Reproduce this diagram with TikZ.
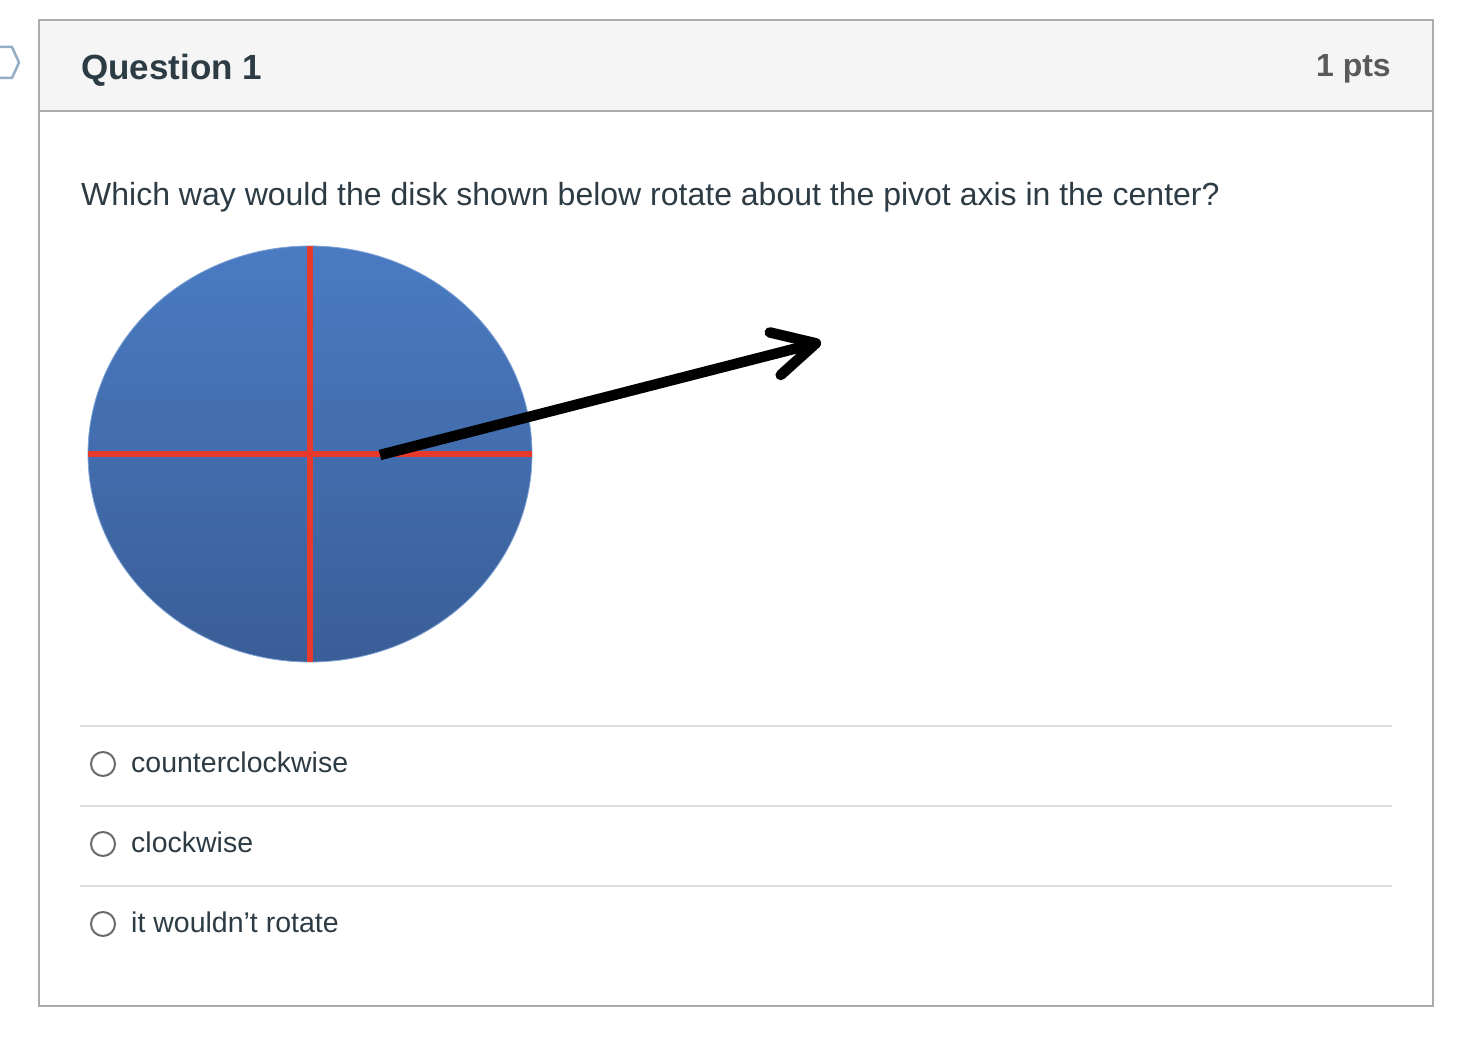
\documentclass[tikz,border=0pt]{standalone}
\usepackage{fontspec}
\setmainfont{Liberation Sans}
\usepackage{xcolor}
\usepackage{tikz}
\usetikzlibrary{shapes}
\usetikzlibrary{arrows.meta}
\usetikzlibrary{positioning}
\usetikzlibrary{calc}
\definecolor{frame}{HTML}{ABABAB}
\definecolor{headbg}{HTML}{F5F5F5}
\definecolor{ink}{HTML}{2D3B45}
\definecolor{ptsgray}{HTML}{5A5A5A}
\definecolor{rule}{HTML}{DEDEDE}
\definecolor{radio}{HTML}{6B6B6B}
\definecolor{disktop}{HTML}{4A7BC3}
\definecolor{diskbot}{HTML}{3A5E97}
\definecolor{axisred}{HTML}{E8392B}
\definecolor{navhex}{HTML}{94ADC6}

\begin{document}
\begin{tikzpicture}[x=1pt,y=-1pt,
  card/.style={
    rectangle,
    draw=frame,
    line width=2pt,
    inner sep=0pt},
  head/.style={
    rectangle,
    draw=frame,
    fill=headbg,
    line width=2pt,
    inner sep=0pt},
  txt/.style 2 args={
    anchor=#1,
    inner sep=0pt,
    text=ink,
    font=\fontsize{#2}{#2}\selectfont},
  disk/.style={
    ellipse,
    minimum width=444pt,
    minimum height=416pt,
    inner sep=0pt,
    outer sep=0pt,
    top color=disktop,
    bottom color=diskbot,
    draw=disktop!70!white,
    line width=0.8pt},
  axis/.style={
    draw=axisred,
    line width=5.5pt},
  force/.style={
    -{Straight Barb[length=42pt,width=44pt,round]},
    line width=10.5pt,
    black},
  sep/.style={
    draw=rule,
    line width=2pt},
  radio/.style={
    circle,
    draw=radio,
    line width=2pt,
    minimum size=24pt,
    inner sep=0pt},
]

  \def\rowstep{80}%
  \def\rowbase{726}%

  \useasboundingbox (0,0) rectangle (1478,1048);

  % nav marker, cut off at the page edge
  \draw[navhex, line width=2.5pt, line join=round]
    (-10,47) -- (12,47) -- (19,62.5) -- (12,78) -- (-10,78);

  \node[card, minimum width=1394pt, minimum height=986pt] (panel)
    at (736,513) {};
  \node[head, minimum width=1394pt, minimum height=91pt] (header)
    at (736,65.5) {};

  \node[txt={base west}{35}, font=\fontsize{35}{35}\selectfont\bfseries] (qtitle)
    at (81,80) {Question 1};
  \node[txt={base east}{32}, text=ptsgray, font=\fontsize{32}{32}\selectfont\bfseries] (qpts)
    at (1391,77) {1 pts};

  \node[txt={base west}{32}] (prompt)
    at (81,206) {Which way would the disk shown below rotate about the pivot axis in the center?};

  \node[disk] (wheel) at (310,454) {};
  \draw[axis] (wheel.north) -- (wheel.south);
  \draw[axis] (wheel.west) -- (wheel.east);

  \coordinate (pivot) at (380,455);
  \coordinate (tip) at (821,342);
  \draw[force] (pivot) -- (tip);

  \foreach \lbl [count=\i] in {counterclockwise, clockwise, it wouldn’t rotate} {
    \coordinate (sepL_\i) at (80, \rowbase + \rowstep*\i - \rowstep);
    \coordinate (sepR_\i) at (1392, \rowbase + \rowstep*\i - \rowstep);
    \draw[sep] (sepL_\i) -- (sepR_\i);
    \node[radio] (opt_\i) at (103, \rowbase + \rowstep*\i - \rowstep + 38) {};
    \node[txt={base west}{28.5}] (ans_\i)
      at (131, \rowbase + \rowstep*\i - \rowstep + 46) {\lbl};
  }

\end{tikzpicture}
\end{document}
